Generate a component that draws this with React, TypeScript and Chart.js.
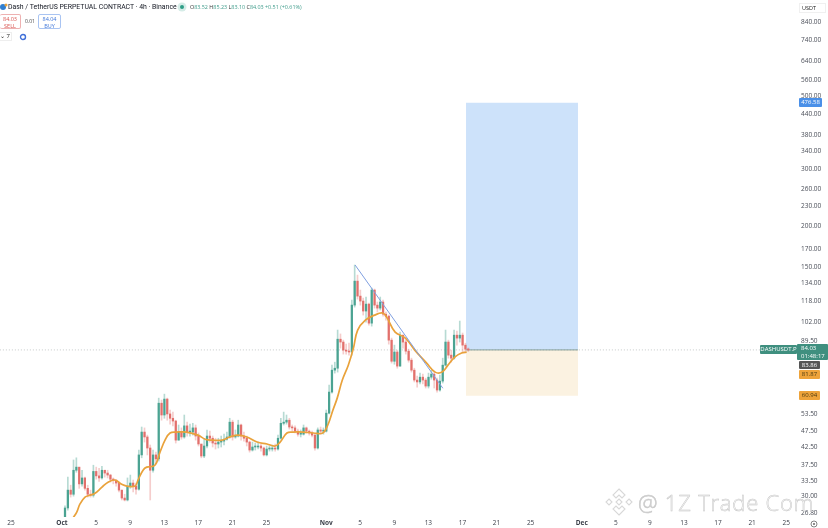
import { useEffect, useRef } from "react";
import { Chart, registerables } from "chart.js";
Chart.register(...registerables);

// 8h bars, the first one starts just after Oct 1
const FIRST_BAR_DAY = 0.35;
const BARS_PER_DAY = 3;
const FIRST_OPEN = 25.9;
const closes = [
  27.7,31.4,30.5,36.1,36.9,32.8,34.2,31.8,30.5,30.3,35.8,34.7,34.2,36.1,35.4,34.9,33.9,33.7,33.0,31.4,
  29.7,29.3,32.3,33.0,32.3,31.6,40.2,47.2,45.6,42.2,36.1,40.2,39.1,57.8,53.2,59.5,53.6,52.0,51.0,44.6,
  47.2,45.6,49.3,47.2,47.2,48.6,45.9,43.4,39.9,42.8,45.9,45.2,43.7,43.4,44.0,44.3,44.9,45.6,50.6,45.6,
  45.9,49.6,45.9,45.2,44.0,41.6,42.5,42.5,42.8,42.2,40.2,41.9,41.9,42.2,41.9,45.2,50.2,50.6,51.3,48.9,
  48.6,47.5,46.5,46.5,48.6,47.5,46.9,46.2,42.2,47.9,47.5,47.5,53.9,62.5,72.9,73.9,90.6,88.8,83.9,83.3,
  82.8,115.1,136.2,122.6,118.4,110.4,115.9,101.4,127.9,115.1,112.7,117.6,108.0,106.5,90.0,77.6,82.8,75.0,93.2,88.8,
  83.3,78.2,72.9,68.0,67.1,69.4,68.0,65.2,69.4,70.9,68.0,63.4,67.5,75.5,88.8,81.0,79.3,93.2,91.3,93.2,
  86.9,84.5,84.03,
];
const highs = [
  28.1,34.4,32.5,38.8,39.4,34.9,36.1,34.4,32.5,31.4,37.4,36.9,36.6,37.1,36.1,36.1,35.1,34.2,33.7,33.0,
  31.4,30.5,34.2,34.9,33.7,33.0,41.6,48.9,48.6,46.2,43.1,41.6,41.0,59.9,59.1,61.6,59.9,55.1,54.3,51.3,
  49.6,48.6,53.2,50.6,49.9,50.2,49.6,46.9,43.1,45.2,47.9,47.5,45.9,45.2,45.2,45.9,46.5,47.2,52.0,51.3,
  47.9,51.3,49.9,47.2,45.9,44.3,44.0,43.7,44.0,43.4,42.5,42.8,42.8,43.1,43.4,46.2,52.0,54.3,53.2,52.0,
  49.6,49.3,48.2,47.9,49.6,48.9,47.9,47.5,46.5,48.6,48.9,48.6,55.1,65.6,75.5,77.1,96.6,94.0,90.0,87.5,
  88.1,119.2,152.5,142.1,127.9,120.9,121.8,116.8,129.7,128.8,117.6,121.8,119.2,109.6,107.3,91.3,86.9,83.9,95.2,93.2,
  90.0,84.5,79.3,73.9,69.9,71.4,70.9,68.9,71.4,72.9,71.9,68.9,70.4,79.3,96.6,90.0,83.9,96.6,95.9,102.9,
  94.6,88.1,85.23,
];
const lows = [
  25.9,27.3,29.9,30.1,35.6,31.8,32.3,31.4,29.9,29.9,29.9,33.9,33.4,33.9,34.4,34.2,33.2,32.8,32.3,31.0,
  29.3,29.1,29.1,31.8,31.0,30.5,31.4,39.4,44.0,40.2,29.3,35.6,37.7,38.5,51.3,52.0,51.3,49.9,49.3,43.7,
  44.6,44.9,45.2,45.9,45.9,46.2,44.6,42.8,39.4,39.4,42.2,44.0,42.5,41.9,42.2,42.5,43.1,44.6,45.2,44.6,
  45.2,45.6,44.6,44.3,42.8,41.0,41.3,41.6,41.9,41.3,39.9,39.9,41.3,41.3,41.3,41.6,44.9,49.6,49.9,48.2,
  47.5,46.9,45.9,45.6,46.2,46.9,46.2,45.6,41.6,41.9,46.5,46.5,47.2,53.6,62.0,71.4,71.9,85.1,81.6,81.6,
  81.0,81.0,113.5,120.0,115.1,107.3,102.1,100.0,99.3,112.7,109.6,111.2,106.5,103.6,87.5,76.6,76.0,73.9,75.0,85.1,
  81.6,77.1,71.9,67.1,64.7,66.2,66.2,64.3,64.3,68.4,64.3,62.5,62.9,66.6,75.0,79.3,77.1,78.8,86.9,88.8,
  82.8,82.2,83.10,
];

// moving average, read at its turning points
const maDays = [1.33,1.73,2.11,2.7,3.29,3.87,4.66,5.4,6.22,7,7.6,8.57,8.92,9.51,9.94,10.9,11.5,12.09,12.68,13.46,14.6,15.96,16.8,17.7,18.8,19.7,20.66,21.7,22.9,24.06,25,25.6,26.4,27.1,28.3,29.5,30.6,31.2,31.8,32.3,32.9,33.6,34.2,34.7,35.6,36.7,37.6,38.1,39.1,40.3,41.4,42.8,43.8,44.6,45.3,46.1,46.9,47.5];
const maValues = [25.9,26.9,28.5,29.9,30.3,30.7,32.0,33.2,33.7,32.7,32.3,32.3,33.7,36.1,36.9,37.4,41.0,44.6,46.9,47.2,47.2,46.2,44.9,44.6,44.6,45.6,46.2,45.6,44.0,43.4,42.8,44.0,46.9,47.2,47.2,46.9,46.9,49.6,55.1,59.9,68.0,75.5,85.0,96.6,103.6,107.3,108.9,105.8,95.2,91.3,83.9,76.6,71.9,71.9,75.5,79.9,82.2,82.8];

const trendDays = [34.4, 44.7];
const trendPrices = [152.5, 64.2];

const lastPrice = 84.03;
const targetPrice = 476.58;
const stopPrice = 60.94;
const boxDays = [47.42, 60.56];

const priceTicks = [840,740,640,560,500,440,380,340,300,260,230,200,170,150,134,118,102,89.5,53.5,47.5,42.5,37.5,33.5,30,26.8];
const dayTicks = [-6,0,4,8,12,16,20,24,31,35,39,43,47,51,55,61,65,69,73,77,81,85];
const dayLabels = ["25","Oct","5","9","13","17","21","25","Nov","5","9","13","17","21","25","Dec","5","9","13","17","21","25"];
const monthLabels = ["Oct", "Nov", "Dec"];

const UP = "#4ba392";
const DOWN = "#e2706c";
const FONT = "'Open Sans', sans-serif";

const tag = (top: number, left: number, w: number, h: number, bg: string, color = "#fff"): React.CSSProperties => ({
  position: "absolute", top, left, width: w, height: h, background: bg, color,
  fontSize: 6, lineHeight: `${h}px`, textAlign: "center", fontFamily: FONT, borderRadius: 1, whiteSpace: "nowrap",
});

export default function App() {
  const canvasRef = useRef<HTMLCanvasElement>(null);

  useEffect(() => {
    if (!canvasRef.current) return;
    const opens = closes.map((_, i) => (i === 0 ? FIRST_OPEN : closes[i - 1]));
    const barDay = (i: number) => FIRST_BAR_DAY + i / BARS_PER_DAY;
    const bodyColors = closes.map((c, i) => (c >= opens[i] ? UP : DOWN));
    const wickColors = closes.map((c, i) => (c >= opens[i] ? "rgba(75,163,146,0.4)" : "rgba(226,112,108,0.35)"));

    const chart = new Chart(canvasRef.current, {
      type: "bar",
      data: {
        datasets: [
          {
            type: "line", data: boxDays.map(d => ({ x: d, y: targetPrice })),
            borderWidth: 0, pointRadius: 0, backgroundColor: "#cde2fa", fill: { value: lastPrice }, order: 10,
          },
          {
            type: "line", data: boxDays.map(d => ({ x: d, y: stopPrice })),
            borderWidth: 0, pointRadius: 0, backgroundColor: "#fbf2e1", fill: { value: lastPrice }, order: 10,
          },
          {
            type: "line", data: [{ x: -8, y: lastPrice }, { x: 90, y: lastPrice }],
            borderColor: "rgba(110,120,120,0.4)", borderWidth: 1, borderDash: [1, 2], pointRadius: 0, order: 9,
          },
          {
            type: "line", data: boxDays.map(d => ({ x: d, y: lastPrice })),
            borderColor: "#8aa39c", borderWidth: 1, pointRadius: 0, order: 8,
          },
          {
            type: "bar", data: highs.map((h, i) => ({ x: barDay(i), y: [lows[i], h] })),
            backgroundColor: wickColors, barThickness: 1, grouped: false, order: 6,
          },
          {
            type: "bar", data: closes.map((c, i) => ({ x: barDay(i), y: [opens[i], c] })),
            backgroundColor: bodyColors, barThickness: 1.6, grouped: false, minBarLength: 1, order: 5,
          },
          {
            type: "line", data: maDays.map((d, i) => ({ x: d, y: maValues[i] })),
            borderColor: "#e9a23b", borderWidth: 1.7, pointRadius: 0, tension: 0.4, order: 2,
          },
          {
            type: "line", data: trendDays.map((d, i) => ({ x: d, y: trendPrices[i] })),
            borderColor: "#7f9fe0", borderWidth: 1, pointRadius: 0, order: 1,
          },
        ],
      },
      options: {
        responsive: false,
        animation: false,
        layout: { padding: 0 },
        plugins: { legend: { display: false }, tooltip: { enabled: false } },
        scales: {
          x: {
            type: "linear", min: -7.28, max: 86.15, offset: false,
            grid: { display: false, drawTicks: false }, border: { display: false },
            afterFit: (s: any) => { s.height = 11; s.paddingLeft = 0; s.paddingRight = 0; },
            afterBuildTicks: (s: any) => { s.ticks = dayTicks.map(v => ({ value: v })); },
            ticks: {
              autoSkip: false, maxRotation: 0, padding: 2, color: "#3a3e48",
              font: (ctx: any) => {
                const label = dayLabels[dayTicks.indexOf(ctx.tick?.value)];
                return { size: 6.5, family: FONT, weight: monthLabels.includes(label) ? "bold" : "normal" };
              },
              callback: (v: any) => dayLabels[dayTicks.indexOf(Number(v))],
            },
          },
          y: {
            type: "logarithmic", position: "right", min: 26.0, max: 980.3,
            grid: { display: false, drawTicks: false }, border: { display: false },
            afterFit: (s: any) => { s.width = 32; s.paddingTop = 0; s.paddingBottom = 0; },
            afterBuildTicks: (s: any) => { s.ticks = priceTicks.map(v => ({ value: v })); },
            ticks: {
              autoSkip: false, padding: 5, color: "#4a4e58", font: { size: 6.5, family: FONT },
              callback: (v: any) => Number(v).toFixed(2),
            },
          },
        },
      },
    } as any);
    return () => chart.destroy();
  }, []);

  return (
    <div style={{ position: "fixed", left: 0, top: 0, width: 828, height: 528, background: "#fff", overflow: "hidden", fontFamily: FONT }}>
      <canvas ref={canvasRef} width={828} height={528} style={{ display: "block" }} />

      {/* legend row */}
      <svg width={8} height={8} style={{ position: "absolute", left: 0, top: 3 }}>
        <circle cx={3} cy={4} r={3} fill="#2f7fd1" />
        <circle cx={6} cy={2} r={1.5} fill="#e8a33d" />
      </svg>
      <div style={{ position: "absolute", left: 8, top: 2, fontSize: 6.9, lineHeight: "10px", color: "#131722", whiteSpace: "nowrap", fontFamily: "Roboto, sans-serif" }}>
        Dash / TetherUS PERPETUAL CONTRACT · 4h · Binance
      </div>
      <svg width={10} height={10} style={{ position: "absolute", left: 177, top: 2 }}>
        <circle cx={5} cy={5} r={4.5} fill="#d5ece7" />
        <circle cx={5} cy={5} r={2} fill="#2e9e86" />
      </svg>
      <div style={{ position: "absolute", left: 190, top: 2, fontSize: 5.4, lineHeight: "10px", color: "#3f9c8b", whiteSpace: "nowrap" }}>
        <b style={{ color: "#333", fontWeight: 400 }}>O</b>83.52 <b style={{ color: "#333", fontWeight: 400 }}>H</b>85.23 <b style={{ color: "#333", fontWeight: 400 }}>L</b>83.10 <b style={{ color: "#333", fontWeight: 400 }}>C</b>84.03 +0.51 (+0.61%)
      </div>

      {/* sell / buy */}
      <div style={{ position: "absolute", left: 0, top: 14, width: 21, height: 15, boxSizing: "border-box", border: "1px solid #eeb1b1", borderLeft: "none", borderRadius: 2, color: "#d9534f", fontSize: 5.5, lineHeight: "6.5px", textAlign: "center", paddingTop: 1 }}>
        84.03<br />SELL
      </div>
      <div style={{ position: "absolute", left: 25, top: 18, fontSize: 5, lineHeight: "7px", color: "#444" }}>0.01</div>
      <div style={{ position: "absolute", left: 38, top: 14, width: 23, height: 15, boxSizing: "border-box", border: "1px solid #a9c4f2", borderRadius: 2, color: "#3f76d8", fontSize: 5.5, lineHeight: "6.5px", textAlign: "center", paddingTop: 1 }}>
        84.04<br />BUY
      </div>

      {/* indicators row */}
      <div style={{ position: "absolute", left: 0, top: 32, width: 12, height: 9, boxSizing: "border-box", border: "1px solid #eee", borderLeft: "none", fontSize: 6, lineHeight: "7px", color: "#222", whiteSpace: "nowrap" }}>
        ⌄ 7
      </div>
      <svg width={8} height={8} style={{ position: "absolute", left: 19, top: 33 }}>
        <circle cx={4} cy={4} r={2.5} fill="none" stroke="#3f6fd8" strokeWidth={1.4} />
      </svg>

      {/* currency selector */}
      <div style={{ position: "absolute", left: 799, top: 3, width: 27, height: 10, boxSizing: "border-box", border: "1px solid #f0f0f0", fontSize: 5.5, lineHeight: "8px", color: "#222", paddingLeft: 2 }}>
        USDT
      </div>

      {/* price tags */}
      <div style={tag(98, 799, 23, 9, "#4a90e8")}>476.58</div>
      <div style={tag(345, 760, 37, 9, "#3f8f7f")}>DASHUSDT.P</div>
      <div style={{ ...tag(344, 797, 31, 16, "#3f8f7f"), lineHeight: "7.5px", paddingTop: 1, boxSizing: "border-box", textAlign: "left", paddingLeft: 4 }}>
        84.03<br />01:48:17
      </div>
      <div style={tag(361, 799, 21, 8, "#555")}>83.86</div>
      <div style={tag(370, 799, 21, 8.5, "#eea33a", "#4a3a10")}>81.87</div>
      <div style={tag(391, 799, 21, 8.5, "#eea33a", "#4a3a10")}>60.94</div>

      {/* watermark */}
      <svg width={30} height={30} viewBox="0 0 30 30" style={{ position: "absolute", left: 604, top: 488 }}>
        <g fill="#fff" stroke="#d8d8d8" strokeWidth={1.1}>
          <path d="M15 1 L21 7 L18 10 L15 7 L12 10 L9 7 Z" />
          <path d="M5 11 L8 14 L5 17 L2 14 Z" />
          <path d="M25 11 L28 14 L25 17 L22 14 Z" />
          <path d="M15 11 L18 14 L15 17 L12 14 Z" />
          <path d="M15 27 L21 21 L18 18 L15 21 L12 18 L9 21 Z" />
        </g>
      </svg>
      <div style={{ position: "absolute", left: 638, top: 487, fontSize: 22, lineHeight: "30px", color: "#fff", WebkitTextStroke: "0.5px #c4c4c4", letterSpacing: 0.8, whiteSpace: "nowrap", fontFamily: "'Open Sans', sans-serif", fontWeight: 300 }}>
        <span style={{ color: "#d8d8d8" }}>@</span> 1Z Trade Com
      </div>

      {/* settings gear */}
      <svg width={8} height={8} style={{ position: "absolute", left: 810, top: 520 }}>
        <circle cx={4} cy={4} r={3} fill="none" stroke="#666" strokeWidth={0.8} />
        <circle cx={4} cy={4} r={1} fill="#666" />
      </svg>
    </div>
  );
}
